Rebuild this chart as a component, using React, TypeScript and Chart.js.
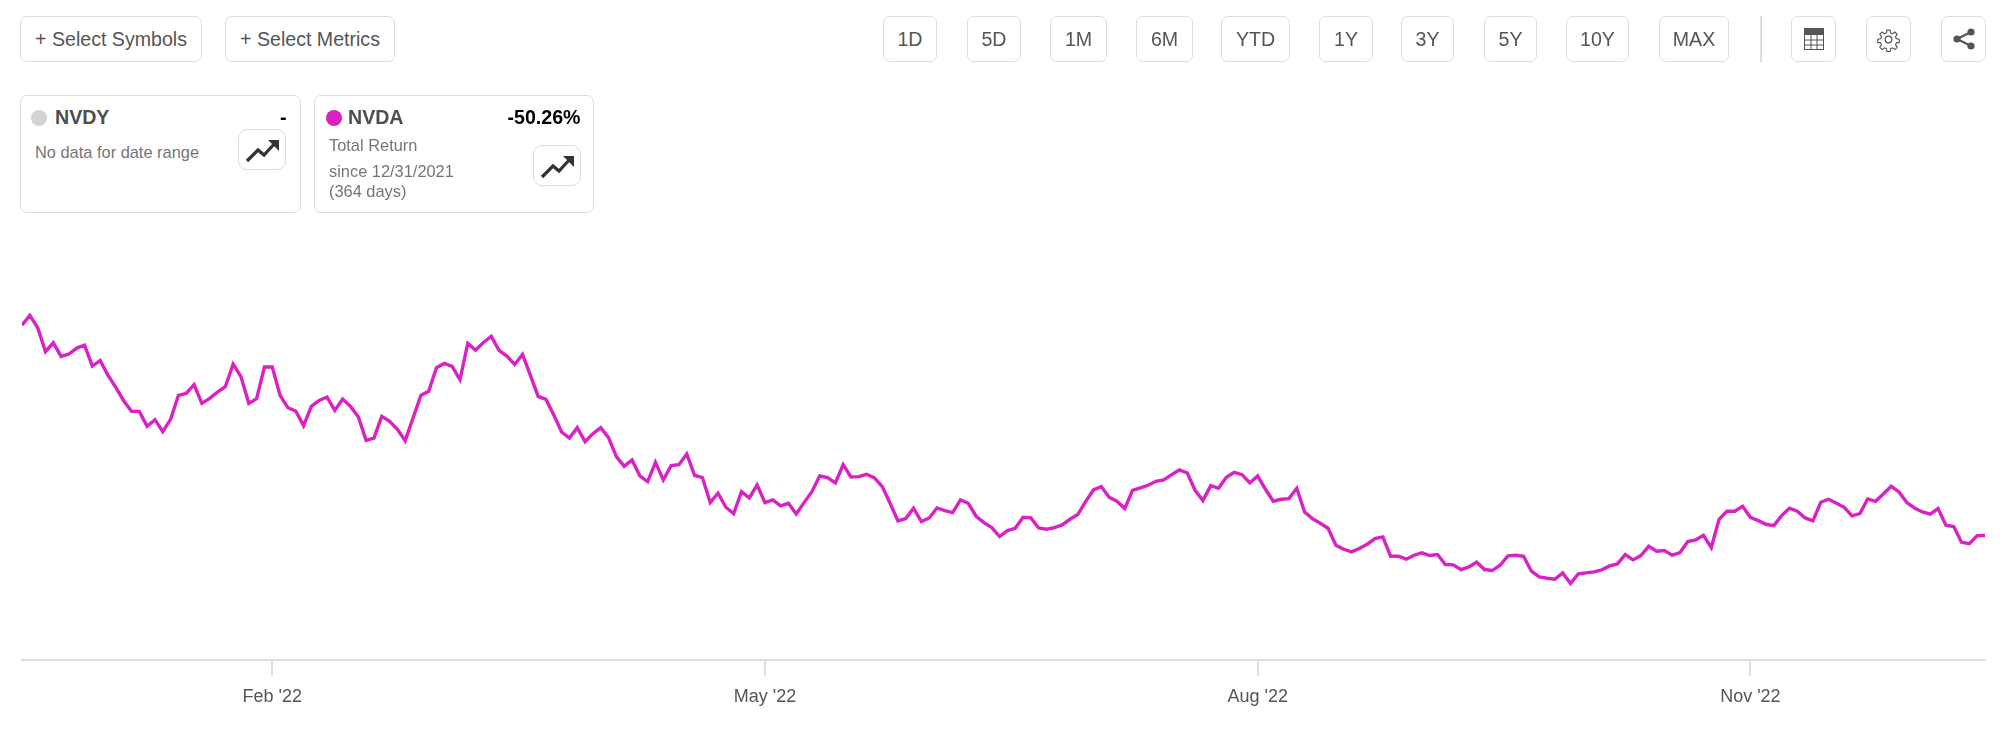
import React, { useEffect, useRef } from "react";
import { Chart, registerables } from "chart.js";

Chart.register(...registerables);

const nvdaReturns: number[] = [
  0, 2.31, -0.56, -6.36, -4.22, -7.48, -6.92, -5.49, -4.77, -9.78,
  -8.43, -12.01, -14.88, -18.06, -20.6, -20.6, -24.18, -22.59, -25.46, -22.51,
  -16.79, -16.31, -14.24, -18.69, -17.5, -15.99, -14.72, -9.31, -12.33, -18.69,
  -17.58, -10.02, -10.02, -16.79, -19.73, -20.52, -24.02, -19.41, -17.98, -17.18,
  -20.36, -17.66, -19.41, -21.88, -27.52, -26.97, -21.8, -22.99, -24.9, -27.6,
  -22.19, -16.79, -15.83, -10.18, -9.15, -9.86, -13.05, -4.38, -5.97, -4.14,
  -2.7, -6.05, -7.4, -9.39, -7.0, -11.93, -17.02, -17.74, -21.48, -25.54,
  -26.97, -24.5, -27.84, -25.93, -24.5, -26.89, -31.42, -33.73, -32.22, -36.04,
  -37.39, -32.77, -36.99, -33.57, -33.33, -30.79, -35.88, -36.43, -42.4, -40.17,
  -43.51, -45.03, -39.78, -41.29, -38.18, -42.4, -41.76, -43.2, -42.56, -45.11,
  -42.4, -39.78, -36.04, -36.43, -37.71, -33.33, -36.27, -36.2, -35.64, -36.51,
  -38.58, -42.56, -46.78, -46.22, -43.75, -46.93, -46.06, -43.67, -44.31, -44.79,
  -41.76, -42.56, -45.66, -47.17, -48.37, -50.51, -49.08, -48.53, -45.9, -46.06,
  -48.45, -48.76, -48.37, -47.73, -46.38, -45.26, -42.16, -39.38, -38.58, -41.13,
  -42.08, -43.83, -39.46, -38.9, -38.26, -37.31, -36.99, -35.72, -34.6, -35.32,
  -39.46, -41.92, -38.34, -38.98, -36.35, -35.16, -35.72, -37.71, -36.04, -39.22,
  -42.08, -41.6, -41.45, -38.98, -44.63, -46.22, -47.33, -48.53, -52.58, -53.54,
  -54.17, -53.38, -52.34, -50.99, -50.59, -55.21, -55.21, -55.92, -54.97, -54.41,
  -55.05, -54.81, -57.2, -57.28, -58.39, -57.75, -56.64, -58.39, -58.63, -57.36,
  -55.13, -54.97, -55.21, -58.79, -60.14, -60.46, -60.7, -59.19, -61.73, -59.42,
  -59.19, -58.95, -58.47, -57.52, -57.04, -54.81, -56.08, -55.05, -52.82, -54.01,
  -53.86, -54.97, -54.33, -51.71, -51.31, -50.2, -53.14, -46.38, -44.47, -44.47,
  -43.28, -45.9, -46.7, -47.57, -47.89, -45.5, -43.75, -44.47, -46.06, -46.78,
  -42.32, -41.6, -42.56, -43.51, -45.58, -45.03, -41.53, -42.08, -40.33, -38.5,
  -39.85, -42.4, -43.67, -44.63, -45.18, -43.83, -47.81, -48.13, -51.87, -52.19,
  -50.28, -50.26,
];
const xTickIndexes: number[] = [32, 95, 158, 221];
const xTickLabels: string[] = ["Feb '22", "May '22", "Aug '22", "Nov '22"];
const rangeButtons: [string, number, number][] = [
  ["1D", 883, 54], ["5D", 967, 54], ["1M", 1050, 57], ["6M", 1136, 57], ["YTD", 1221, 69],
  ["1Y", 1319, 54], ["3Y", 1401, 53], ["5Y", 1484, 53], ["10Y", 1566, 63], ["MAX", 1659, 70],
];

const FONT = '"Liberation Sans", Arial, sans-serif';
const BORDER = "1px solid #dcdcdc";
const MAGENTA = "#d921c4";
const BODY = 16.4;
const HEAD = 19.6;

const box = (left: number, top: number, width: number, height: number, radius = 7): React.CSSProperties => ({
  position: "absolute", left, top, width, height, boxSizing: "border-box", border: BORDER,
  borderRadius: radius, background: "#fff",
});
const abs = (left: number, top: number, style: React.CSSProperties = {}): React.CSSProperties => ({
  position: "absolute", left, top, whiteSpace: "nowrap", ...style,
});

function Btn({ x, w, children }: { x: number; w: number; children: React.ReactNode }) {
  return (
    <div style={{ ...box(x, 16, w, 46), display: "flex", alignItems: "center", justifyContent: "center", fontSize: HEAD, color: "#555" }}>
      {children}
    </div>
  );
}

function TrendIcon({ x, y }: { x: number; y: number }) {
  return (
    <div style={box(x, y, 48, 41, 9)}>
      <svg width={46} height={39} viewBox="0 0 46 39" style={{ display: "block" }}>
        <path d="M8 31 L19 20 L25 25 L37 12" fill="none" stroke="#333" strokeWidth={3.2} />
        <path d="M29 10 L40 10 L40 21 Z" fill="#333" />
      </svg>
    </div>
  );
}

export default function App() {
  const ref = useRef<HTMLCanvasElement>(null);
  useEffect(() => {
    const chart = new Chart(ref.current!, {
      type: "line",
      data: {
        datasets: [{
          label: "NVDA",
          data: nvdaReturns.map((y, x) => ({ x, y })),
          borderColor: MAGENTA,
          borderWidth: 3.4,
          pointRadius: 0,
          tension: 0,
          borderJoinStyle: "miter",
        }],
      },
      options: {
        animation: false,
        responsive: false,
        layout: { padding: { left: 22, right: 28, top: 300, bottom: 0 } },
        plugins: { legend: { display: false }, tooltip: { enabled: false } },
        scales: {
          x: {
            type: "linear",
            min: 0,
            max: nvdaReturns.length - 1,
            afterBuildTicks: (s: any) => { s.ticks = xTickIndexes.map((value) => ({ value })); },
            afterFit: (s: any) => { s.height = 71; },
            border: { color: "#dedede", width: 2 },
            grid: { drawOnChartArea: false, color: "#dedede", lineWidth: 2, tickLength: 16 },
            ticks: {
              autoSkip: false,
              maxRotation: 0,
              padding: 10,
              color: "#555",
              font: { family: FONT, size: 18 },
              callback: (v: any) => xTickLabels[xTickIndexes.indexOf(Number(v))] ?? "",
            },
          },
          y: { display: false, min: -80, max: 6 },
        },
      },
    });
    return () => chart.destroy();
  }, []);

  return (
    <div style={{ position: "absolute", left: 0, top: 0, width: 2013, height: 731, overflow: "hidden", background: "#fff", fontFamily: FONT }}>
      <canvas ref={ref} width={2013} height={731} style={{ position: "absolute", left: 0, top: 0, display: "block" }} />

      <Btn x={20} w={182}>+ Select Symbols</Btn>
      <Btn x={225} w={170}>+ Select Metrics</Btn>
      {rangeButtons.map(([t, x, w]) => <Btn key={t} x={x} w={w}>{t}</Btn>)}
      <div style={{ position: "absolute", left: 1760, top: 16, width: 2, height: 46, background: "#dcdcdc" }} />

      <Btn x={1791} w={45}>
        <svg width={20} height={22} viewBox="0 0 20 22">
          <rect x={0.5} y={0.5} width={19} height={21} fill="none" stroke="#555" />
          <rect x={0} y={0} width={20} height={7} fill="#555" />
          <path d="M0 12H20M0 17H20M7 7V22M13 7V22" stroke="#555" strokeWidth={1} />
        </svg>
      </Btn>
      <Btn x={1866} w={45}>
        <svg width={25} height={25} viewBox="0 0 24 24" fill="none" stroke="#555" strokeWidth={1.2}>
          <circle cx={12} cy={12} r={3.2} />
          <path d="M10.3 2h3.4l.5 3 2.2.9 2.5-1.8 2.4 2.4-1.8 2.5.9 2.2 3 .5v3.4l-3 .5-.9 2.2 1.8 2.5-2.4 2.4-2.5-1.8-2.2.9-.5 3h-3.4l-.5-3-2.2-.9-2.5 1.8-2.4-2.4 1.8-2.5-.9-2.2-3-.5v-3.4l3-.5.9-2.2-1.8-2.5 2.4-2.4 2.5 1.8 2.2-.9z" transform="translate(1.2 1.2) scale(.9)" />
        </svg>
      </Btn>
      <Btn x={1941} w={45}>
        <svg width={24} height={24} viewBox="0 0 24 24">
          <path d="M19 5 L5 12 L19 19" fill="none" stroke="#555" strokeWidth={2.2} />
          <circle cx={19} cy={5} r={3.6} fill="#555" />
          <circle cx={5} cy={12} r={3.6} fill="#555" />
          <circle cx={19} cy={19} r={3.6} fill="#555" />
        </svg>
      </Btn>

      <div style={box(20, 95, 281, 118)} />
      <div style={box(314, 95, 280, 118)} />

      <div style={abs(31, 110, { width: 16, height: 16, borderRadius: "50%", background: "#d3d3d3" })} />
      <div style={abs(55, 106, { fontSize: HEAD, fontWeight: 700, color: "#4d4d4d", lineHeight: "22px" })}>NVDY</div>
      <div style={abs(280, 106, { fontSize: HEAD, fontWeight: 700, color: "#000", lineHeight: "22px" })}>-</div>
      <div style={abs(35, 143, { fontSize: BODY, color: "#757575", lineHeight: "18px" })}>No data for date range</div>
      <TrendIcon x={238} y={129} />

      <div style={abs(326, 110, { width: 16, height: 16, borderRadius: "50%", background: MAGENTA })} />
      <div style={abs(348, 106, { fontSize: HEAD, fontWeight: 700, color: "#4d4d4d", lineHeight: "22px" })}>NVDA</div>
      <div style={abs(507.5, 106, { fontSize: HEAD, fontWeight: 700, color: "#000", lineHeight: "22px" })}>-50.26%</div>
      <div style={abs(329, 136, { fontSize: BODY, color: "#757575", lineHeight: "18px" })}>Total Return</div>
      <div style={abs(329, 162, { fontSize: BODY, color: "#757575", lineHeight: "18px" })}>since 12/31/2021</div>
      <div style={abs(329, 182, { fontSize: BODY, color: "#757575", lineHeight: "18px" })}>(364 days)</div>
      <TrendIcon x={533} y={145} />
    </div>
  );
}
